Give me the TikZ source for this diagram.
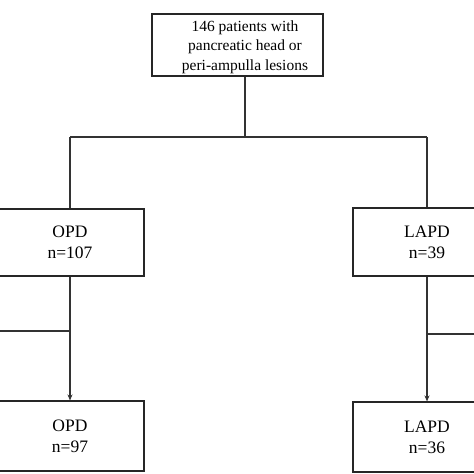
\documentclass[tikz,border=0pt]{standalone}
\usepackage{fontspec}
\setmainfont{Liberation Serif}
\usetikzlibrary{arrows.meta}
\begin{document}
\begin{tikzpicture}[x=1pt,y=-1pt,
  frame/.style={draw=black!85,line width=1.1pt,rectangle,inner sep=0pt},
  box/.style={frame,align=center,font=\fontsize{17.5}{21}\selectfont},
  toptext/.style={inner sep=0pt,align=center,font=\fontsize{15.5}{19.5}\selectfont},
  link/.style={draw=black!80,line width=1.1pt},
  arr/.style={link,-{Stealth[length=6pt,width=5pt]}}]
\useasboundingbox (0,0) rectangle (474,474);
\clip (0,0) rectangle (474,474);
\fill[white] (0,0) rectangle (474,474);
\node[frame,minimum width=171pt,minimum height=62pt] (top) at (237.5,45) {};
\node[toptext] (toplabel) at (245,47) {146 patients with\\pancreatic head or\\peri-ampulla lesions};
\node[box,minimum width=148pt,minimum height=67pt] (opd1) at (70,242.5) {\rule{0pt}{4pt}OPD\\n=107};
\node[box,minimum width=148pt,minimum height=68pt] (lapd1) at (427,242) {\rule{0pt}{4pt}LAPD\\n=39};
\node[box,minimum width=148pt,minimum height=70pt] (opd2) at (70,436) {\rule{0pt}{4pt}OPD\\n=97};
\node[box,minimum width=148pt,minimum height=70pt] (lapd2) at (427,437) {\rule{0pt}{4pt}LAPD\\n=36};
\coordinate (split) at (245,137);
\coordinate (exl) at (-10,331);
\coordinate (exr) at (484,334);
\draw[link] (top.south -| split) -- (split);
\draw[link] (split -| opd1.north) -- (split -| lapd1.north);
\draw[link] (split -| opd1.north) -- (opd1.north);
\draw[link] (split -| lapd1.north) -- (lapd1.north);
\draw[arr] (opd1.south) -- (opd2.north);
\draw[arr] (lapd1.south) -- (lapd2.north);
\draw[link] (exl) -- (exl -| opd1.south);
\draw[link] (exr) -- (exr -| lapd1.south);
\end{tikzpicture}
\end{document}
